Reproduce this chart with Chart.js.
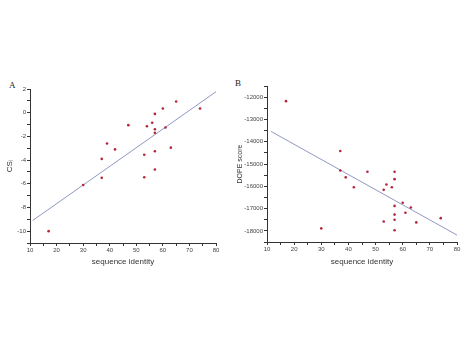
<!DOCTYPE html>
<html lang="en">
<head>
  <meta charset="UTF-8">
  <title>Sequence identity scatter plots</title>
  <script src="https://cdn.jsdelivr.net/npm/chart.js"></script>
  <style>
    body { margin: 0; background: #fff; width: 474px; height: 361px; position: relative; overflow: hidden; }
    canvas { position: absolute; top: 70px; }
    #chartA { left: 0; }
    #chartB { left: 237px; }
    .panel-label { position: absolute; font-family: 'Liberation Serif', serif; font-size: 9px; color: #222; }
  </style>
</head>
<body>
  <div class="panel-label" style="left:9px; top:80px;">A</div>
  <div class="panel-label" style="left:235px; top:78px;">B</div>
  <canvas id="chartA" width="237" height="210"></canvas>
  <canvas id="chartB" width="237" height="210"></canvas>

  <script>
    // Panel A: CSi vs sequence identity
    var identityA = [17, 30, 37, 37, 39, 42, 47, 53, 53, 54, 56, 57, 57, 57, 57, 57, 60, 61, 63, 65, 74];
    var csA = [-10, -6.1, -3.9, -5.5, -2.6, -3.1, -1.05, -3.55, -5.45, -1.15, -0.85, -0.1, -1.4, -1.7, -3.25, -4.8, 0.35, -1.25, -2.95, 0.95, 0.35];
    var fitXA = [11, 80];
    var fitYA = [-9.1, 1.77];

    // Panel B: DOPE score vs sequence identity
    var identityB = [17, 30, 37, 37, 39, 42, 47, 53, 53, 54, 56, 57, 57, 57, 57, 57, 57, 60, 61, 63, 65, 74];
    var dopeB = [-12180, -17890, -14420, -15290, -15600, -16040, -15350, -16160, -17580, -15920, -16040, -15350, -15680, -16880, -17270, -17500, -17970, -16740, -17190, -16950, -17620, -17430];
    var fitXB = [11.5, 80];
    var fitYB = [-13540, -18190];

    var tickFont = { family: 'Liberation Sans', size: 6 };
    var titleFont = { family: 'Liberation Sans', size: 8 };

    function toPoints(xs, ys) {
      return xs.map(function(x, i) { return { x: x, y: ys[i] }; });
    }

    function makeChart(id, opts) {
      new Chart(document.getElementById(id), {
        type: 'scatter',
        data: {
          datasets: [
            {
              data: toPoints(opts.xs, opts.ys),
              backgroundColor: '#b5253a',
              borderColor: '#b5253a',
              pointRadius: 1.3,
              borderWidth: 0
            },
            {
              type: 'line',
              data: toPoints(opts.fitX, opts.fitY),
              borderColor: '#8f98c4',
              borderWidth: 1,
              pointRadius: 0,
              fill: false
            }
          ]
        },
        options: {
          responsive: false,
          animation: false,
          layout: { padding: opts.padding },
          plugins: { legend: { display: false }, tooltip: { enabled: false } },
          scales: {
            x: {
              type: 'linear',
              min: 10, max: 80,
              afterFit: function(s) { s.height = opts.xHeight; },
              border: { display: true, color: '#333', width: 1 },
              grid: { drawOnChartArea: false, drawTicks: true, tickLength: 3, color: '#333' },
              ticks: {
                stepSize: 5, padding: 1, color: '#444', font: tickFont, maxRotation: 0,
                callback: function(v) { return v % 10 === 0 ? v : ''; }
              },
              title: { display: true, text: 'sequence identity', color: '#333', font: titleFont, padding: { top: 0, bottom: 13 } }
            },
            y: {
              min: opts.yMin, max: opts.yMax,
              afterFit: function(s) { s.width = 30; },
              border: { display: true, color: '#333', width: 1 },
              grid: { drawOnChartArea: false, drawTicks: true, tickLength: 3, color: '#333' },
              ticks: {
                stepSize: opts.yStep, padding: 1, color: '#444', font: tickFont,
                callback: function(v) { return v % opts.yMajor === 0 ? v : ''; }
              },
              title: { display: true, text: opts.yTitle, color: '#333', font: opts.yTitleFont, padding: opts.yTitlePad }
            }
          }
        }
      });
    }

    makeChart('chartA', {
      xs: identityA, ys: csA, fitX: fitXA, fitY: fitYA,
      yMin: -11, yMax: 2, yStep: 1, yMajor: 2,
      yTitle: 'CSᵢ',
      yTitleFont: { family: 'Liberation Sans', size: 8 },
      yTitlePad: { top: 5, bottom: 0 },
      padding: { left: 0, right: 21, top: 19, bottom: 0 },
      xHeight: 37
    });

    makeChart('chartB', {
      xs: identityB, ys: dopeB, fitX: fitXB, fitY: fitYB,
      yMin: -18500, yMax: -11500, yStep: 500, yMajor: 1000,
      yTitle: 'DOPE score',
      yTitleFont: { family: 'Liberation Sans', size: 7, lineHeight: 1 },
      yTitlePad: { top: 0, bottom: 0 },
      padding: { left: 0, right: 17, top: 16, bottom: 0 },
      xHeight: 38
    });
  </script>
</body>
</html>
